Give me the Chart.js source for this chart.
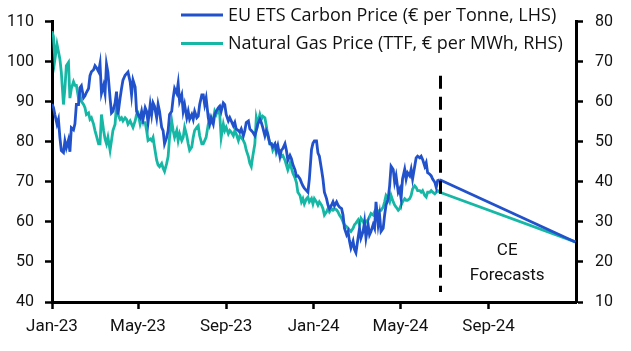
<!DOCTYPE html>
<html>
<head>
<meta charset="utf-8">
<script src="https://cdn.jsdelivr.net/npm/chart.js@4.4.1/dist/chart.umd.min.js"></script>
<style>
  html, body { margin: 0; padding: 0; background: #fff; }
</style>
</head>
<body>
<canvas id="chart" width="631" height="351"></canvas>
<script>
// days since 1 Jan 2023
const days = [0, 2, 4, 7, 9, 11, 13, 16, 18, 20, 23, 25, 27, 30, 32, 34, 37, 39, 41, 44, 46,
  48, 51, 53, 55, 58, 60, 62, 65, 67, 69, 72, 74, 76, 78, 81, 83, 85, 88, 90, 92,
  95, 97, 99, 102, 104, 106, 109, 111, 113, 116, 118, 120, 123, 125, 127, 130, 132, 134, 137, 139,
  141, 143, 146, 148, 150, 153, 155, 157, 160, 162, 164, 167, 169, 171, 174, 176, 178, 181, 183, 185,
  188, 190, 192, 195, 197, 199, 202, 204, 206, 209, 211, 213, 215, 218, 220, 222, 225, 227, 229, 232,
  234, 236, 239, 241, 243, 246, 248, 250, 253, 255, 257, 260, 262, 264, 267, 269, 271, 274, 276, 278,
  280, 283, 285, 287, 290, 292, 294, 297, 299, 301, 304, 306, 308, 311, 313, 315, 318, 320, 322, 325,
  327, 329, 332, 334, 336, 339, 341, 343, 346, 348, 350, 352, 355, 357, 359, 362, 364, 366, 369, 371,
  373, 376, 378, 380, 383, 385, 387, 390, 392, 394, 397, 399, 401, 404, 406, 408, 411, 413, 415, 417,
  420, 422, 424, 427, 429, 431, 434, 436, 438, 441, 443, 445, 448, 450, 452, 455, 457, 459, 462, 464,
  466, 469, 471, 473, 476, 478, 480, 483, 485, 487, 489, 492, 494, 496, 499, 501, 503, 506, 508, 510,
  513, 515, 517, 520, 522, 524, 527, 529, 531, 534, 536, 538, 541];

// EU ETS carbon price, EUR per tonne (LHS)
const carbonPrice = [89.4, 88.6, 86.8, 84.4, 85.6, 81.1, 77.8, 77.3, 80.2, 78.5, 80.5,
  77.5, 83.5, 83, 84.5, 89.3, 89.3, 93.5, 94, 91, 91.5,
  92.3, 93.3, 96.5, 97.5, 98, 99, 98.5, 97.5, 99.5, 92.1,
  94.1, 92.1, 99.4, 97.4, 90.9, 87.2, 87.6, 89.7, 92.5, 86.8,
  90.9, 93.3, 95.4, 96.6, 97, 97.4, 95, 91.7, 95.4, 93.7,
  87.6, 86.8, 86, 87.6, 85.6, 88.5, 87.6, 84.8, 89.3, 86.8,
  89.7, 88.9, 86, 89.3, 87.6, 83.6, 82.8, 79.5, 81.1, 82.8,
  86.8, 87.6, 90.9, 93.3, 92.1, 94.6, 90.1, 91.7, 87.6, 89.3,
  86, 87.6, 85.6, 86.8, 85.6, 87.6, 86, 86.4, 89.3, 91.7,
  91.7, 89.3, 90.9, 86, 84.4, 86, 84.4, 86.8, 87.6, 88.5,
  88.9, 87.6, 89.7, 89.3, 86.8, 85.2, 86, 85.2, 84, 84.8,
  83.2, 82.8, 82.4, 83.2, 81.5, 82.8, 84.8, 85.2, 83.2, 82.8,
  82.4, 81.5, 82.8, 84.4, 85.6, 84.8, 83.6, 81.5, 82.8, 82,
  79.5, 79.5, 78.7, 79.5, 77.9, 79.1, 76.3, 77.9, 78.3, 79.5,
  77.9, 75.4, 76.6, 75.8, 74.3, 73, 71.4,
  71.5, 70.7, 69.8, 69, 68.4, 67.8, 67.4, 70.7, 78, 79.6,
  80.2, 80.2, 77.2, 76.4, 73.1, 70.7, 67.4, 65.8, 64.2, 63.3,
  64.2, 65, 64,
  65, 64.2, 63.7, 63.3, 61.7, 58.4, 56.8, 57.6, 55.2, 53.5,
  55.2, 53.1, 52.3, 56, 58.4, 56, 57.6, 60, 56, 59.3,
  56.8, 57.6, 59.3, 58.4, 65, 59.3, 61.7, 57.6, 58.4, 61.7,
  64.2, 65.8, 69, 73.9, 73.1, 69.9, 71.5, 67.4, 68.2, 65.8,
  70.7, 73.1, 70.7, 72.3, 71.5, 73.1, 70.7, 73.9, 76, 76.4,
  76, 76.4, 75.6, 73.9, 74.8, 72.3, 71.9, 71.5, 70.7, 69.9,
  68.6, 70.3, 70.5];

// TTF natural gas price, EUR per MWh (RHS)
const gasPrice = [77.6, 76.3, 70.5, 74.3, 72.5, 70.7, 67.4, 59.3, 63.3, 69, 69.8,
  60.9, 63.3, 65, 64.1, 64.1, 60.9, 61.7, 60.1, 59.3, 58.5,
  56.8, 57.2, 55.6, 56, 54.4, 52.8, 51.5, 49.5, 49.5, 56.8,
  52.8, 50.7, 49.5, 51.1, 47.9, 50.3, 52.8, 54.4, 59.3, 56.8,
  55.6, 56, 55.2, 56, 55.6, 54.4, 55.2, 54.4, 53.6, 55.2,
  56.8, 57.2, 54.4, 55.6, 54.8, 54.8, 52.8, 50.3, 50.7, 50.3,
  51.1, 48.7, 45.4, 44.2, 43.8, 44.6, 43.4, 42.6, 44.6, 46.3,
  51.1, 55.2, 52.8, 51.1, 52.8, 50.3, 52, 50.3, 51.1, 53.6,
  51.5, 49.5, 47.9, 48.7, 51.1, 52.8, 53.6, 54, 51.5, 49.5,
  49.5, 50.3, 51.1, 54.4, 56, 54.8, 55.6, 57.6, 56.8, 58.1,
  56.8, 51.1, 54.4, 52.8, 53.6, 52, 52.8, 52.4, 51.5, 52.8,
  52, 50.3, 51.5, 51.1, 50.3, 49.5, 47.9, 46.3, 44.6, 43.8,
  46.3, 49.5, 56, 54.4, 56.8, 55.6, 56.4, 56, 54, 51.5,
  49.5, 49.5, 47.9, 49.1, 47.1, 47.9, 47.5, 46.3, 46.6, 45.4,
  44.2, 43, 44.6, 43.4, 42.2, 41, 39.8,
  37.4, 36.6, 35, 35.8, 34.5, 35.8, 36.2, 35, 35.8, 34.5,
  35.8, 35, 34.2, 35, 34.2, 33.3, 31.7, 32.5, 33.3, 32.5,
  33.3, 32.9, 33.3,
  33, 32.5, 31.7, 30.9, 30, 29.3, 28.8, 28.4, 28, 27.6,
  28.4, 29.3, 29.7, 30.5, 29.3, 30.9, 30.1, 29.3, 30.1, 30.5,
  31.3, 32.1, 31.7, 32.5, 31.7, 32.5, 32.9, 32.9, 33.7, 35,
  36.6, 35.8, 35, 36.6, 35, 34.2, 33.7, 32.9, 33.3, 34.2,
  35, 35.8, 35.4, 35.4, 35.8, 36.6, 38.2, 39, 38.6, 37.8,
  37.8, 37.4, 37.8, 36.6, 36.2, 37.4, 37.4, 37.8, 37.4, 37,
  37.4, 37.8, 37.4];

// CE forecasts (last observation -> end-2024)
const forecastDays = [541, 730];
const carbonForecast = [70.5, 55];
const gasForecast = [37.4, 25];

const tickDays = [0, 120, 243, 365, 486, 609];
const tickLabels = ['Jan-23', 'May-23', 'Sep-23', 'Jan-24', 'May-24', 'Sep-24'];

const BLUE = '#2152cc';
const TEAL = '#16b8a5';
const FONT = 'Roboto';

const pts = (xs, ys) => xs.map((d, i) => ({ x: d, y: ys[i] }));

const extras = {
  id: 'extras',
  afterDatasetsDraw(chart) {
    const { ctx, scales } = chart;
    const x = scales.x, yL = scales.yL;
    ctx.save();

    // forecast divider
    const px = Math.round(x.getPixelForValue(forecastDays[0])) + 0.5;
    ctx.strokeStyle = '#000';
    ctx.lineWidth = 3;
    ctx.setLineDash([13, 8]);
    ctx.beginPath();
    ctx.moveTo(px, yL.getPixelForValue(96.5));
    ctx.lineTo(px, yL.getPixelForValue(42.5));
    ctx.stroke();
    ctx.setLineDash([]);

    ctx.fillStyle = '#111';
    ctx.font = '17px ' + FONT;
    ctx.textAlign = 'center';
    ctx.textBaseline = 'middle';
    const tx = x.getPixelForValue(635);
    ctx.fillText('CE', tx, yL.getPixelForValue(52.7));
    ctx.fillText('Forecasts', tx, yL.getPixelForValue(46.6));

    // legend
    ctx.textAlign = 'left';
    ctx.font = '18px "Open Sans"';
    let ly = 15;
    chart.data.datasets.filter(ds => ds.inLegend).forEach(ds => {
      ctx.strokeStyle = ds.borderColor;
      ctx.lineWidth = 3;
      ctx.beginPath();
      ctx.moveTo(181, ly);
      ctx.lineTo(223, ly);
      ctx.stroke();
      ctx.fillText(ds.label, 228, ly + 0.5);
      ly += 28.5;
    });
    ctx.restore();
  }
};

const axisGrid = {
  drawOnChartArea: false,
  drawTicks: true,
  tickLength: 7,
  tickColor: '#000',
  tickWidth: 2.5
};

new Chart(document.getElementById('chart'), {
  type: 'line',
  data: {
    datasets: [
      { label: 'EU ETS Carbon Price (€ per Tonne, LHS)', data: pts(days, carbonPrice),
        borderColor: BLUE, yAxisID: 'yL', inLegend: true },
      { label: 'Natural Gas Price (TTF, € per MWh, RHS)', data: pts(days, gasPrice),
        borderColor: TEAL, yAxisID: 'yR', inLegend: true },
      { label: 'carbon forecast', data: pts(forecastDays, carbonForecast),
        borderColor: BLUE, yAxisID: 'yL' },
      { label: 'gas forecast', data: pts(forecastDays, gasForecast),
        borderColor: TEAL, yAxisID: 'yR' }
    ]
  },
  options: {
    responsive: false,
    animation: false,
    layout: { padding: { top: 16, left: 0, right: 0, bottom: 0 } },
    elements: {
      point: { radius: 0 },
      line: { borderWidth: 2.8, tension: 0 }
    },
    plugins: {
      legend: { display: false },
      tooltip: { enabled: false }
    },
    scales: {
      x: {
        type: 'linear',
        min: 0,
        max: 731,
        border: { color: '#000', width: 3 },
        grid: axisGrid,
        afterBuildTicks: s => { s.ticks = tickDays.map(v => ({ value: v })); },
        afterFit: s => { s.height = 49; },
        ticks: {
          color: '#111',
          font: { family: FONT, size: 17 },
          padding: 8,
          maxRotation: 0,
          autoSkip: false,
          callback: v => tickLabels[tickDays.indexOf(v)]
        }
      },
      yL: {
        position: 'left',
        min: 40,
        max: 110,
        border: { color: '#000', width: 3 },
        grid: axisGrid,
        afterFit: s => { s.width = 52; },
        ticks: { stepSize: 10, color: '#111', font: { family: FONT, size: 16 }, padding: 11 }
      },
      yR: {
        position: 'right',
        min: 10,
        max: 80,
        border: { color: '#000', width: 3 },
        grid: axisGrid,
        afterFit: s => { s.width = 55; },
        ticks: { stepSize: 10, color: '#111', font: { family: FONT, size: 16 }, padding: 12 }
      }
    }
  },
  plugins: [extras]
});
</script>
</body>
</html>
